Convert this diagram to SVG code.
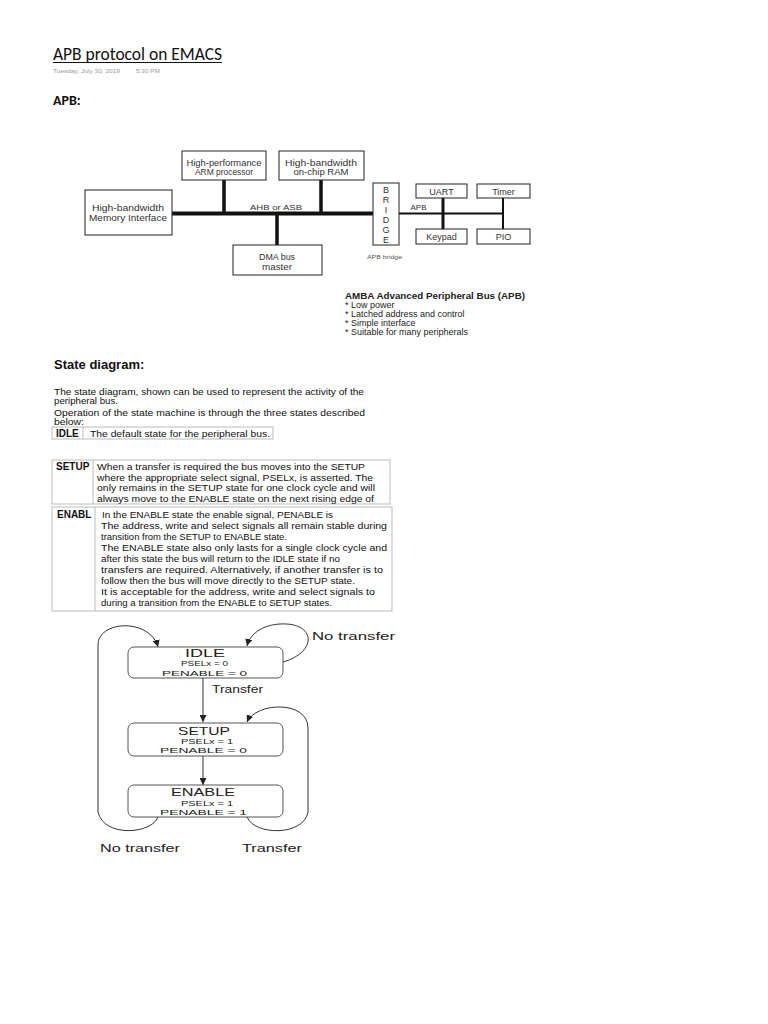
<svg xmlns="http://www.w3.org/2000/svg" width="768" height="1024" viewBox="0 0 768 1024">
<defs>
<style>
.ttl{font-family:Carlito,Lato,"Liberation Sans",sans-serif;font-size:18px;fill:#111}
.date{font-family:"Liberation Sans",Arial,sans-serif;font-size:6px;fill:#999}
.h2{font-family:Carlito,Lato,"Liberation Sans",sans-serif;font-weight:bold;font-size:14px;fill:#111}
.h3{font-family:"Liberation Sans",Arial,sans-serif;font-weight:bold;font-size:13px;fill:#111}
.bd{font-family:"Liberation Sans",Arial,sans-serif;font-size:9px;fill:#333;text-anchor:middle}
.bl{font-family:"Liberation Sans",Arial,sans-serif;font-size:8px;fill:#333;text-anchor:middle}
.bx{fill:#fff;stroke:#222;stroke-width:1}
.bus{stroke:#111;fill:none}
.p{font-family:"Liberation Sans",Arial,sans-serif;font-size:9.5px;fill:#111}
.pb{font-family:"Liberation Sans",Arial,sans-serif;font-size:10px;font-weight:bold;fill:#111}
.tb{fill:none;stroke:#bbb;stroke-width:1}
.am{font-family:"Liberation Sans",Arial,sans-serif;font-size:9px;fill:#222}
.st{fill:#fff;stroke:#555;stroke-width:1}
.sn{font-family:"Liberation Sans",Arial,sans-serif;font-size:10.5px;fill:#222;text-anchor:middle}
.ss{font-family:"Liberation Sans",Arial,sans-serif;font-size:8px;fill:#222;text-anchor:middle}
.sl{font-family:"Liberation Sans",Arial,sans-serif;font-size:11.5px;fill:#222}
.cn{fill:none;stroke:#333;stroke-width:1}
</style>
<marker id="ah" viewBox="0 0 10 10" refX="10" refY="5" markerWidth="7" markerHeight="7" markerUnits="userSpaceOnUse" orient="auto">
<path d="M0,0 L10,5 L0,10 z" fill="#222"/>
</marker>
</defs>
<rect width="768" height="1024" fill="#fff"/>

<g id="header">
<text class="ttl" x="53" y="60" textLength="169" lengthAdjust="spacingAndGlyphs">APB protocol on EMACS</text>
<line x1="53" y1="62.5" x2="222" y2="62.5" stroke="#111" stroke-width="1"/>
<text class="date" x="53" y="73" textLength="67" lengthAdjust="spacingAndGlyphs">Tuesday, July 30, 2019</text>
<text class="date" x="136" y="73" textLength="24" lengthAdjust="spacingAndGlyphs">5:30 PM</text>
<text class="h2" x="53" y="105">APB:</text>
</g>

<g id="bus-connectors">
<line class="bus" x1="172" y1="213.5" x2="374" y2="213.5" stroke-width="4"/>
<line class="bus" x1="224" y1="180" x2="224" y2="213" stroke-width="3.5"/>
<line class="bus" x1="321" y1="180" x2="321" y2="213" stroke-width="3.5"/>
<line class="bus" x1="277" y1="213" x2="277" y2="245" stroke-width="3.5"/>
<line class="bus" x1="399" y1="213.5" x2="503" y2="213.5" stroke-width="2"/>
<line class="bus" x1="443" y1="198" x2="443" y2="229" stroke-width="3"/>
<line class="bus" x1="503" y1="198" x2="503" y2="229" stroke-width="2"/>
</g>

<g id="arm">
<rect class="bx" x="182" y="151" width="84" height="29"/>
<text class="bd" x="224" y="166" textLength="75" lengthAdjust="spacingAndGlyphs">High-performance</text>
<text class="bd" x="224" y="175" textLength="58" lengthAdjust="spacingAndGlyphs">ARM processor</text>
</g>
<g id="ram">
<rect class="bx" x="279" y="151" width="85" height="29"/>
<text class="bd" x="321" y="166" textLength="72" lengthAdjust="spacingAndGlyphs">High-bandwidth</text>
<text class="bd" x="321" y="175" textLength="55" lengthAdjust="spacingAndGlyphs">on-chip RAM</text>
</g>
<g id="memory">
<rect class="bx" x="85" y="190" width="87" height="45"/>
<text class="bd" x="128" y="211" textLength="72" lengthAdjust="spacingAndGlyphs">High-bandwidth</text>
<text class="bd" x="128" y="221" textLength="78" lengthAdjust="spacingAndGlyphs">Memory Interface</text>
</g>
<g id="dma">
<rect class="bx" x="233" y="245" width="89" height="30"/>
<text class="bd" x="277" y="260" textLength="36" lengthAdjust="spacingAndGlyphs">DMA bus</text>
<text class="bd" x="277" y="270" textLength="30" lengthAdjust="spacingAndGlyphs">master</text>
</g>
<text class="bl" x="276" y="209.5" textLength="52" lengthAdjust="spacingAndGlyphs">AHB or ASB</text>
<g id="bridge">
<rect class="bx" x="373" y="183" width="26" height="62"/>
<text class="bd" x="386" y="192.5">B</text>
<text class="bd" x="386" y="202.5">R</text>
<text class="bd" x="386" y="212.5">I</text>
<text class="bd" x="386" y="222.5">D</text>
<text class="bd" x="386" y="232.5">G</text>
<text class="bd" x="386" y="242.5">E</text>
</g>
<text class="bl" x="418.5" y="209.5">APB</text>
<g id="uart">
<rect class="bx" x="416" y="184" width="51" height="14"/>
<text class="bd" x="441.5" y="194.5">UART</text>
</g>
<g id="timer">
<rect class="bx" x="477" y="184" width="53" height="14"/>
<text class="bd" x="503.5" y="194.5">Timer</text>
</g>
<g id="keypad">
<rect class="bx" x="416" y="229" width="51" height="15"/>
<text class="bd" x="441.5" y="240">Keypad</text>
</g>
<g id="pio">
<rect class="bx" x="477" y="229" width="53" height="15"/>
<text class="bd" x="503.5" y="240">PIO</text>
</g>
<text class="date" x="367" y="259" textLength="35" lengthAdjust="spacingAndGlyphs" style="fill:#555">APB bridge</text>

<g id="amba-notes">
<text class="am" x="345" y="299" font-weight="bold" textLength="180" lengthAdjust="spacingAndGlyphs">AMBA Advanced Peripheral Bus (APB)</text>
<text class="am" x="345" y="308">* Low power</text>
<text class="am" x="345" y="317">* Latched address and control</text>
<text class="am" x="345" y="326">* Simple interface</text>
<text class="am" x="345" y="335">* Suitable for many peripherals</text>
</g>

<g id="state-text">
<text class="h3" x="54" y="369">State diagram:</text>
<text class="p" x="54" y="394.5" textLength="310" lengthAdjust="spacingAndGlyphs">The state diagram, shown  can be used to represent the activity of the</text>
<text class="p" x="54" y="403.5" textLength="64" lengthAdjust="spacingAndGlyphs">peripheral bus.</text>
<text class="p" x="54" y="415.5" textLength="311" lengthAdjust="spacingAndGlyphs">Operation of the state machine is through the three states described</text>
<text class="p" x="54" y="424.5" textLength="30" lengthAdjust="spacingAndGlyphs">below:</text>
</g>

<g id="row-idle">
<rect class="tb" x="52" y="427" width="221" height="12"/>
<line class="tb" x1="83" y1="427" x2="83" y2="439"/>
<text class="pb" x="56" y="436.5">IDLE</text>
<text class="p" x="90" y="436.5" textLength="180" lengthAdjust="spacingAndGlyphs">The default state for the peripheral bus.</text>
</g>

<g id="row-setup">
<rect class="tb" x="52" y="460" width="338" height="44"/>
<line class="tb" x1="93" y1="460" x2="93" y2="504"/>
<text class="pb" x="56" y="470">SETUP</text>
<text class="p" x="97" y="470" textLength="268" lengthAdjust="spacingAndGlyphs">When a transfer is required the bus moves into the SETUP</text>
<text class="p" x="97" y="480.5" textLength="276" lengthAdjust="spacingAndGlyphs">where the appropriate select signal, PSELx, is asserted. The</text>
<text class="p" x="97" y="491" textLength="278" lengthAdjust="spacingAndGlyphs">only remains in the SETUP state for one clock cycle and will</text>
<text class="p" x="97" y="501.5" textLength="277" lengthAdjust="spacingAndGlyphs">always move to the ENABLE state on the next rising edge of</text>
</g>

<g id="row-enabl">
<rect class="tb" x="52" y="507" width="340" height="104"/>
<line class="tb" x1="95" y1="507" x2="95" y2="611"/>
<text class="pb" x="57" y="518">ENABL</text>
<text class="p" x="102" y="518" textLength="231" lengthAdjust="spacingAndGlyphs">In the ENABLE state the enable signal, PENABLE is</text>
<text class="p" x="101" y="529" textLength="286" lengthAdjust="spacingAndGlyphs">The address, write and select signals all remain stable during</text>
<text class="p" x="101" y="540" textLength="186" lengthAdjust="spacingAndGlyphs">transition from the SETUP to ENABLE state.</text>
<text class="p" x="101" y="551" textLength="286" lengthAdjust="spacingAndGlyphs">The ENABLE state also only lasts for a single clock cycle and</text>
<text class="p" x="101" y="562" textLength="239" lengthAdjust="spacingAndGlyphs">after this state the bus will return to the IDLE state if no</text>
<text class="p" x="101" y="573" textLength="282" lengthAdjust="spacingAndGlyphs">transfers are required. Alternatively, if another transfer is to</text>
<text class="p" x="101" y="584" textLength="254" lengthAdjust="spacingAndGlyphs">follow then the bus will move directly to the SETUP state.</text>
<text class="p" x="101" y="595" textLength="274" lengthAdjust="spacingAndGlyphs">It is acceptable for the address, write and select signals to</text>
<text class="p" x="101" y="606" textLength="231" lengthAdjust="spacingAndGlyphs">during a transition from the ENABLE to SETUP states.</text>
</g>

<g id="connectors">
<path class="cn" d="M203,678 L203,722" marker-end="url(#ah)"/>
<path class="cn" d="M203,756 L203,785" marker-end="url(#ah)"/>
<path class="cn" d="M158,817 C152,834 104,838 98,812 L98,645 C98,620 150,618 158,647" marker-end="url(#ah)"/>
<path class="cn" d="M283,662 C318,652 316,622 280,624 C262,625 250,634 247,646" marker-end="url(#ah)"/>
<path class="cn" d="M247,817 C255,836 304,836 308,812 L308,728 C308,700 256,702 247,722" marker-end="url(#ah)"/>
</g>

<g id="state-idle">
<rect class="st" x="128" y="647" width="155" height="31" rx="6"/>
<text class="sn" x="205" y="657" textLength="40" lengthAdjust="spacingAndGlyphs">IDLE</text>
<text class="ss" x="204.5" y="666" textLength="47" lengthAdjust="spacingAndGlyphs">PSELx = 0</text>
<text class="ss" x="204.5" y="675.5" textLength="85" lengthAdjust="spacingAndGlyphs">PENABLE  = 0</text>
</g>
<g id="state-setup">
<rect class="st" x="128" y="723" width="155" height="33" rx="6"/>
<text class="sn" x="204" y="735" textLength="52" lengthAdjust="spacingAndGlyphs">SETUP</text>
<text class="ss" x="207" y="744" textLength="52" lengthAdjust="spacingAndGlyphs">PSELx = 1</text>
<text class="ss" x="203.5" y="753" textLength="87" lengthAdjust="spacingAndGlyphs">PENABLE  = 0</text>
</g>
<g id="state-enable">
<rect class="st" x="128" y="785" width="155" height="32" rx="6"/>
<text class="sn" x="203" y="796" textLength="64" lengthAdjust="spacingAndGlyphs">ENABLE</text>
<text class="ss" x="207" y="806" textLength="52" lengthAdjust="spacingAndGlyphs">PSELx = 1</text>
<text class="ss" x="203.5" y="815" textLength="87" lengthAdjust="spacingAndGlyphs">PENABLE  = 1</text>
</g>

<g id="transition-labels">
<text class="sl" x="312" y="640" textLength="83" lengthAdjust="spacingAndGlyphs">No transfer</text>
<text class="sl" x="212" y="693" textLength="51" lengthAdjust="spacingAndGlyphs">Transfer</text>
<text class="sl" x="100" y="852" textLength="80" lengthAdjust="spacingAndGlyphs">No transfer</text>
<text class="sl" x="242" y="852" textLength="60" lengthAdjust="spacingAndGlyphs">Transfer</text>
</g>
</svg>
